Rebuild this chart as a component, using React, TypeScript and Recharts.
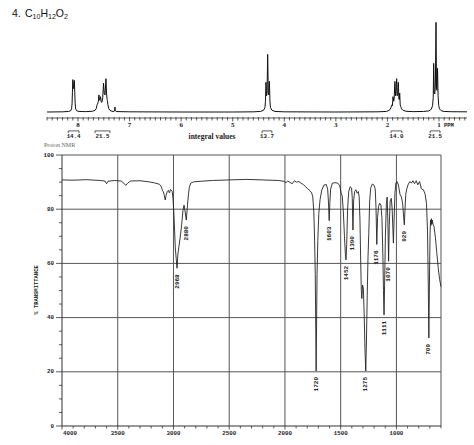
import React from 'react';
import { ComposedChart, Line, XAxis, YAxis, Scatter, ReferenceLine } from 'recharts';

// ---------- Proton NMR (ppm, relative intensity) ----------
const NMR_SPECTRUM: [number, number][] = [
  [8.6, 0], [8.3, 0.2], [8.18, 0.6], [8.14, 1.5], [8.125, 3.5], [8.115, 9], [8.108, 22],
  [8.1, 36], [8.093, 27], [8.085, 26], [8.077, 33], [8.07, 35], [8.063, 22], [8.055, 9],
  [8.045, 3.5], [8.03, 1.5], [7.98, 0.6], [7.85, 0.4], [7.72, 0.8], [7.67, 1.8], [7.645, 4],
  [7.63, 8], [7.62, 9], [7.605, 12], [7.594, 19], [7.585, 13], [7.575, 14], [7.562, 17],
  [7.55, 11], [7.535, 11], [7.52, 16], [7.505, 32], [7.49, 20], [7.475, 19], [7.458, 37],
  [7.446, 20], [7.435, 14], [7.43, 13], [7.42, 8], [7.405, 4], [7.38, 1.8], [7.34, 0.8],
  [7.3, 0.6], [7.29, 2], [7.283, 5.5], [7.276, 2], [7.26, 0.5], [7.0, 0.2], [6.0, 0],
  [5.0, 0], [4.6, 0.2], [4.46, 0.6], [4.4, 2], [4.375, 5], [4.365, 12], [4.355, 33],
  [4.345, 18], [4.335, 20], [4.322, 64], [4.31, 22], [4.3, 19], [4.288, 34], [4.278, 12],
  [4.268, 5], [4.24, 2], [4.18, 0.6], [4.0, 0.2], [3.0, 0], [2.2, 0.2], [2.02, 0.6],
  [1.96, 2], [1.93, 5], [1.912, 8], [1.903, 7], [1.892, 17], [1.878, 12], [1.87, 14],
  [1.855, 34], [1.843, 18], [1.835, 19], [1.821, 37], [1.81, 18], [1.8, 19], [1.789, 33],
  [1.777, 14], [1.77, 14], [1.762, 21], [1.752, 8], [1.742, 6], [1.725, 3.5], [1.7, 2],
  [1.64, 0.8], [1.5, 0.4], [1.3, 0.6], [1.2, 1.2], [1.15, 3], [1.125, 7], [1.112, 16],
  [1.103, 54], [1.092, 22], [1.082, 20], [1.07, 30], [1.058, 99.6], [1.048, 25], [1.04, 24],
  [1.028, 48.5], [1.018, 18], [1.005, 7], [0.99, 3.5], [0.96, 1.5], [0.9, 0.6], [0.75, 0.3],
  [0.457, 0.2],
];
const NMR_MAJOR_TICKS = [8, 7, 6, 5, 4, 3, 2, 1];
const NMR_INTEGRALS = [
  { from: 8.19, to: 7.98, value: '14.4' },
  { from: 7.67, to: 7.38, value: '21.5' },
  { from: 4.43, to: 4.24, value: '13.7' },
  { from: 1.93, to: 1.72, value: '14.0' },
  { from: 1.17, to: 0.98, value: '21.5' },
];

// ---------- IR (wavenumber cm-1, % transmittance) ----------
const IR_SPECTRUM: [number, number][] = [
  [4000, 90.8], [3900, 90.7], [3780, 90.9], [3660, 90.6], [3615, 90.4], [3600, 89.4],
  [3588, 90.3], [3530, 90.6], [3470, 90.4], [3445, 89.6], [3428, 88.8], [3410, 89.6],
  [3385, 90.4], [3300, 90.5], [3220, 90.1], [3170, 89.7], [3125, 89.2], [3108, 88.2],
  [3098, 86.8], [3090, 86.4], [3082, 85.0], [3074, 83.4], [3066, 85.2], [3056, 86.5],
  [3046, 87.0], [3036, 86.0], [3026, 87.3], [3012, 86.6], [3004, 84.0], [2995, 77.5],
  [2984, 66.0], [2976, 62.0], [2968, 58.2], [2960, 63.5], [2950, 66.5], [2937, 70.5],
  [2926, 74.5], [2915, 79.5], [2905, 81.5], [2895, 79.0], [2885, 76.0], [2877, 80.0],
  [2868, 84.5], [2858, 88.0], [2845, 89.6], [2820, 90.1], [2760, 90.3], [2650, 90.6],
  [2500, 90.8], [2350, 91.0], [2200, 90.8], [2060, 90.6], [2010, 90.3], [1990, 89.8],
  [1975, 90.4], [1955, 89.9], [1935, 89.4], [1915, 90.5], [1895, 90.0], [1875, 90.2],
  [1855, 89.6], [1835, 89.1], [1815, 88.3], [1795, 87.5], [1775, 86.8], [1760, 86.0],
  [1750, 84.5], [1741, 79.0], [1734, 69.0], [1728, 56.0], [1724, 38.0], [1720, 20.3],
  [1716, 38.0], [1712, 56.0], [1705, 68.5], [1696, 78.5], [1685, 83.5], [1670, 87.0],
  [1650, 88.9], [1630, 89.1], [1617, 87.5], [1610, 83.0], [1603, 75.8], [1597, 82.5],
  [1590, 87.5], [1575, 89.6], [1550, 89.8], [1525, 89.6], [1508, 88.6], [1496, 86.0],
  [1486, 84.8], [1476, 79.0], [1466, 70.0], [1458, 63.5], [1452, 61.3], [1446, 67.0],
  [1438, 80.0], [1428, 86.5], [1415, 88.3], [1402, 87.8], [1396, 84.0], [1390, 72.3],
  [1384, 83.0], [1375, 86.5], [1364, 87.2], [1352, 85.9], [1342, 86.5], [1334, 84.6],
  [1327, 76.0], [1321, 62.0], [1315, 50.0], [1310, 47.0], [1303, 52.0], [1296, 50.5],
  [1289, 41.0], [1281, 27.0], [1275, 20.3], [1269, 31.0], [1262, 48.0], [1255, 62.0],
  [1248, 71.0], [1240, 83.0], [1230, 88.0], [1215, 89.3], [1200, 88.8], [1190, 87.5],
  [1183, 80.5], [1176, 67.0], [1169, 77.0], [1160, 81.0], [1150, 82.2], [1139, 81.5],
  [1130, 77.0], [1121, 62.0], [1116, 50.0], [1111, 41.0], [1106, 52.0], [1099, 70.0],
  [1090, 82.0], [1083, 84.5], [1077, 76.0], [1070, 60.8], [1064, 74.0], [1056, 83.0],
  [1046, 84.0], [1038, 80.0], [1032, 73.0], [1027, 67.5], [1021, 76.0], [1013, 86.0],
  [1004, 89.8], [994, 90.2], [982, 88.9], [968, 85.5], [955, 84.5], [944, 82.0],
  [935, 77.0], [929, 74.2], [923, 80.0], [916, 85.5], [906, 87.7], [893, 89.3],
  [878, 90.2], [866, 89.6], [852, 90.5], [838, 89.4], [822, 90.5], [808, 89.0],
  [792, 90.2], [776, 87.5], [758, 87.2], [742, 85.5], [730, 82.0], [721, 72.0],
  [714, 52.0], [709, 32.5], [704, 52.0], [698, 71.0], [694, 76.0], [690, 74.0],
  [686, 76.5], [682, 74.5], [678, 76.0], [672, 74.5], [662, 73.5], [650, 69.5],
  [638, 64.0], [624, 58.0], [612, 54.0], [600, 51.4],
];
const IR_PEAKS = [
  { wn: 2968, t: 58.2, label: '2968' },
  { wn: 2880, t: 76.0, label: '2880' },
  { wn: 1720, t: 20.3, label: '1720' },
  { wn: 1603, t: 75.8, label: '1603' },
  { wn: 1452, t: 61.3, label: '1452' },
  { wn: 1390, t: 72.3, label: '1390' },
  { wn: 1275, t: 20.3, label: '1275' },
  { wn: 1176, t: 67.0, label: '1176' },
  { wn: 1111, t: 41.0, label: '1111' },
  { wn: 1070, t: 60.8, label: '1070' },
  { wn: 929, t: 74.2, label: '929' },
  { wn: 709, t: 32.5, label: '709' },
];
const IR_V_GRID = [3500, 3000, 2500, 2000, 1500, 1000, 600];
const IR_H_GRID = [20, 40, 60, 80, 100];

const nmrData = NMR_SPECTRUM.map(([ppm, i]) => ({ ppm, i }));
const nmrIntegralData = NMR_INTEGRALS.map((g) => ({ ppm: (g.from + g.to) / 2, i: 0, value: g.value }));
const irData = IR_SPECTRUM.map(([wn, t]) => ({ wn, t }));

const nmrTicks = Array.from({ length: 82 }, (_, k) => Math.round((0.5 + k * 0.1) * 10) / 10);
const irXTicks = Array.from({ length: 35 }, (_, k) => 600 + k * 100);
const irYTicks = Array.from({ length: 21 }, (_, k) => k * 5);

const MONO = '"Liberation Mono", "DejaVu Sans Mono", monospace';
const SERIF = '"Liberation Serif", "DejaVu Serif", serif';
const SANS = '"Liberation Sans", Arial, sans-serif';

const NmrTick = (props: any) => {
  const { x, y, payload } = props;
  const v = payload.value;
  const major = NMR_MAJOR_TICKS.some((m) => Math.abs(m - v) < 1e-6);
  return (
    <g>
      <line x1={x} x2={x} y1={y - 1} y2={y + (major ? 3.5 : 2.5)} stroke="#333" strokeWidth={0.8} />
      {major && (
        <text x={x} y={y + 7} textAnchor="middle" dominantBaseline="central" fontFamily={SERIF} fontWeight="bold" fontSize={7} fill="#222">
          {v}
        </text>
      )}
      {major && v === 1 && (
        <text x={x + 5} y={y + 7} textAnchor="start" dominantBaseline="central" fontFamily={MONO} fontWeight="bold" fontSize={5.5} fill="#222">
          PPM
        </text>
      )}
    </g>
  );
};

const IrXTick = (props: any) => {
  const { x, y, payload } = props;
  const v = payload.value;
  const major = v % 500 === 0;
  return (
    <g>
      <line x1={x} x2={x} y1={y} y2={y + (major ? 3.5 : 2.5)} stroke="#333" strokeWidth={0.8} />
      {major && (
        <text x={v === 4000 ? x + 1 : x} y={y + 7.5} textAnchor={v === 4000 ? 'start' : 'middle'} dominantBaseline="central" fontFamily={MONO} fontWeight="bold" fontSize={5.8} fill="#222">
          {v}
        </text>
      )}
    </g>
  );
};

const IrYTick = (props: any) => {
  const { x, y, payload } = props;
  const v = payload.value;
  const major = v % 20 === 0;
  return (
    <g>
      <line x1={x - (major ? 6 : 3)} x2={x} y1={y} y2={y} stroke="#333" strokeWidth={0.8} />
      {major && (
        <text x={x - 8} y={y} textAnchor="end" dominantBaseline="central" fontFamily={MONO} fontWeight="bold" fontSize={5.8} fill="#222">
          {v}
        </text>
      )}
    </g>
  );
};

const PeakLabel = (props: any) => {
  const { cx, cy, payload } = props;
  if (cx == null || cy == null) return null;
  return (
    <text
      transform={`translate(${cx},${cy + 6}) rotate(-90)`}
      textAnchor="end"
      dominantBaseline="central"
      fontFamily={MONO}
      fontWeight="bold"
      fontSize={6}
      fill="#222"
    >
      {payload.label}
    </text>
  );
};

const IntegralLabel = (props: any) => {
  const { cx, cy, payload } = props;
  if (cx == null || cy == null) return null;
  return (
    <text x={cx} y={cy + 25} textAnchor="middle" dominantBaseline="central" fontFamily={MONO} fontWeight="bold" fontSize={5.8} fill="#222">
      {payload.value}
    </text>
  );
};

export default function App() {
  return (
    <div style={{ position: 'absolute', left: 0, top: 0, width: 474, height: 445, background: '#fff', overflow: 'hidden' }}>
      <svg width={474} height={445} style={{ position: 'absolute', left: 0, top: 0 }}>
        <text x={12} y={17.3} fontFamily={SANS} fontSize={10.5} fill="#111">4.</text>
        <text x={25} y={17.3} fontFamily={SANS} fontSize={10.5} fill="#111">
          C<tspan fontSize={7} dy={1.3}>10</tspan>
          <tspan dy={-1.3}>H</tspan>
          <tspan fontSize={7} dy={1.3}>12</tspan>
          <tspan dy={-1.3}>O</tspan>
          <tspan fontSize={7} dy={1.3}>2</tspan>
        </text>
        <text x={212} y={136} textAnchor="middle" dominantBaseline="central" fontFamily={SERIF} fontWeight="bold" fontSize={7.5} fill="#222">
          integral values
        </text>
        <text x={44} y={145} dominantBaseline="central" fontFamily={SERIF} fontSize={6} fill="#666">
          Proton NMR
        </text>
        <text transform="translate(36,290) rotate(-90)" textAnchor="middle" dominantBaseline="central" fontFamily={MONO} fontWeight="bold" fontSize={5.5} fill="#222">
          % TRANSMITTANCE
        </text>
      </svg>

      <div style={{ position: 'absolute', left: 0, top: 0 }}>
        <ComposedChart width={474} height={150} margin={{ top: 22, right: 7, left: 47, bottom: 2 }}>
          <XAxis
            dataKey="ppm"
            type="number"
            domain={[0.457, 8.601]}
            reversed
            ticks={nmrTicks}
            interval={0}
            tickSize={0}
            tickMargin={0}
            tickLine={false}
            tick={NmrTick}
            height={30}
            axisLine={{ stroke: '#333', strokeWidth: 0.8 }}
          />
          <YAxis hide width={0} type="number" domain={[-6.667, 100]} />
          {NMR_INTEGRALS.map((g, k) => (
            <ReferenceLine key={`b${k}`} segment={[{ x: g.from, y: -21 }, { x: g.to, y: -21 }]} ifOverflow="visible" stroke="#333" strokeWidth={0.8} />
          ))}
          {NMR_INTEGRALS.map((g, k) => (
            <ReferenceLine key={`l${k}`} segment={[{ x: g.from, y: -21 }, { x: g.from, y: -23.5 }]} ifOverflow="visible" stroke="#333" strokeWidth={0.8} />
          ))}
          {NMR_INTEGRALS.map((g, k) => (
            <ReferenceLine key={`r${k}`} segment={[{ x: g.to, y: -21 }, { x: g.to, y: -23.5 }]} ifOverflow="visible" stroke="#333" strokeWidth={0.8} />
          ))}
          <Line data={nmrData} dataKey="i" type="linear" dot={false} stroke="#111" strokeWidth={1} isAnimationActive={false} />
          <Scatter data={nmrIntegralData} dataKey="i" shape={IntegralLabel} isAnimationActive={false} />
        </ComposedChart>
      </div>

      <div style={{ position: 'absolute', left: 0, top: 0 }}>
        <ComposedChart width={474} height={445} margin={{ top: 155, right: 33, left: 0, bottom: 0 }}>
          <XAxis
            dataKey="wn"
            type="number"
            domain={[600, 4000]}
            reversed
            ticks={irXTicks}
            interval={0}
            tickSize={0}
            tickMargin={0}
            tickLine={false}
            tick={IrXTick}
            height={19}
            axisLine={{ stroke: '#333', strokeWidth: 1 }}
          />
          <YAxis
            type="number"
            domain={[0, 100]}
            ticks={irYTicks}
            interval={0}
            tickSize={0}
            tickMargin={0}
            tickLine={false}
            tick={IrYTick}
            width={62}
            axisLine={{ stroke: '#333', strokeWidth: 1 }}
          />
          {IR_V_GRID.map((v) => (
            <ReferenceLine key={`v${v}`} x={v} stroke="#555" strokeWidth={1} />
          ))}
          {IR_H_GRID.map((v) => (
            <ReferenceLine key={`h${v}`} y={v} stroke="#555" strokeWidth={1} />
          ))}
          <Line data={irData} dataKey="t" type="linear" dot={false} stroke="#222" strokeWidth={0.9} isAnimationActive={false} />
          <Scatter data={IR_PEAKS} dataKey="t" shape={PeakLabel} isAnimationActive={false} />
        </ComposedChart>
      </div>
    </div>
  );
}
